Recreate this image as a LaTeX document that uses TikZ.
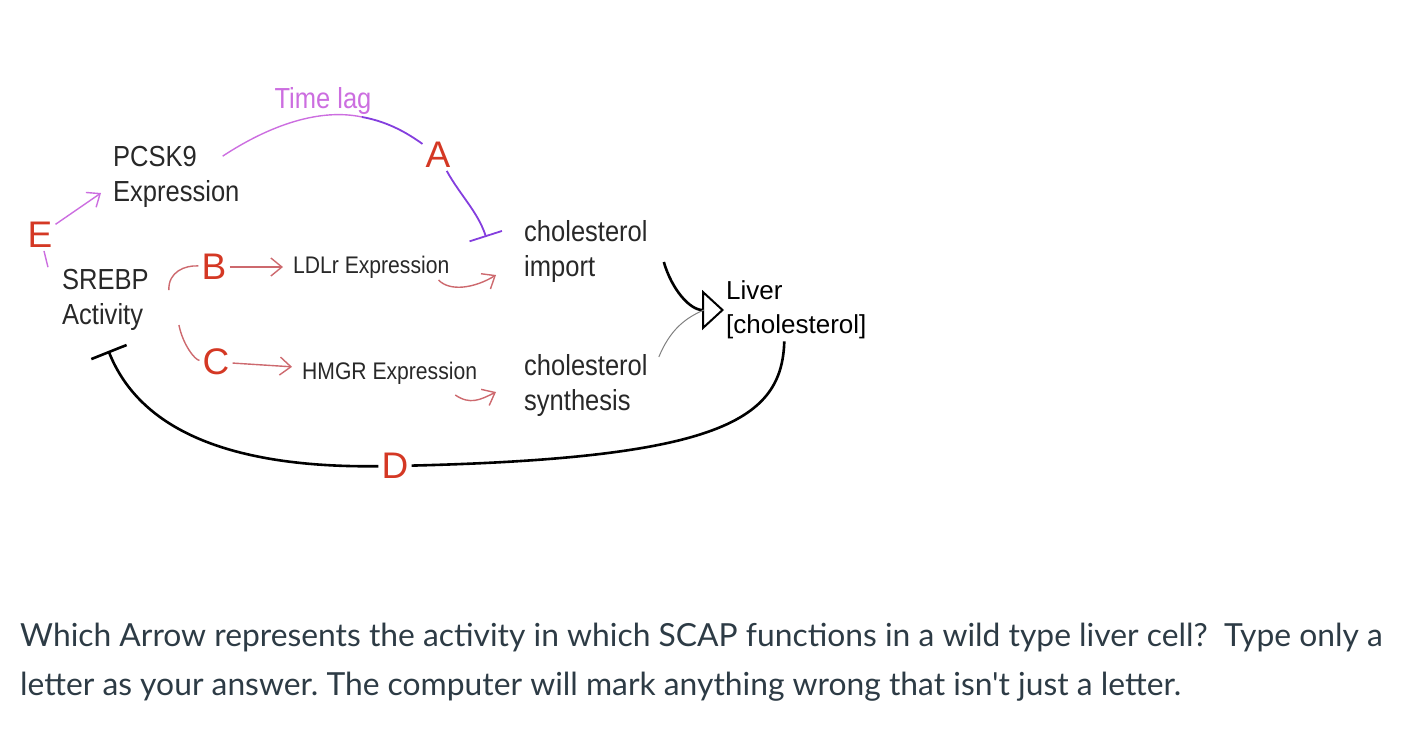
\documentclass[tikz,border=0pt]{standalone}
\usepackage{fontspec}
\setmainfont{Lato}
\newfontfamily\questionfont{Lato}
\newfontfamily\labelfont[FakeStretch=0.88]{Liberation Sans}
\newfontfamily\tagfont{Liberation Sans}
\usetikzlibrary{arrows.meta}
\definecolor{tagred}{RGB}{212,56,36}
\definecolor{rose}{RGB}{205,105,110}
\definecolor{orchid}{RGB}{204,110,224}
\definecolor{lagviolet}{RGB}{132,62,222}
\definecolor{labelgray}{RGB}{40,40,40}
\definecolor{questiontext}{RGB}{45,59,69}
\frenchspacing
\begin{document}
\begin{tikzpicture}[x=1pt,y=-1pt,
  labelnode/.style={font={\labelfont\fontsize{29}{35}\selectfont},text=labelgray,align=left,anchor=west,inner sep=2pt},
  smallnode/.style={font={\labelfont\fontsize{24}{28}\selectfont},text=labelgray,anchor=west,inner sep=2pt},
  livernode/.style={font={\tagfont\fontsize{26}{34}\selectfont},text=black,align=left,anchor=west,inner sep=2pt},
  tagnode/.style={font={\tagfont\fontsize{37}{40}\selectfont},text=tagred,inner sep=3pt},
  pinkline/.style={draw=orchid,line width=1.4pt},
  roseline/.style={draw=rose,line width=1.4pt},
  violetline/.style={draw=lagviolet,line width=1.8pt},
  blackline/.style={draw=black,line width=2.6pt},
  thinline/.style={draw=gray,line width=1pt},
  barb/.style={-{Straight Barb[length=11pt,width=18pt]}}]
\useasboundingbox (0,0) rectangle (1420,748);
% labels
\node[labelnode] (pcsk) at (111,177) {PCSK9\\Expression};
\node[labelnode] (srebp) at (60,300) {SREBP\\Activity};
\node[smallnode] (ldlr) at (291,267) {LDLr Expression};
\node[smallnode] (hmgr) at (300,373) {HMGR Expression};
\node[labelnode] (imp) at (522,251) {cholesterol\\import};
\node[labelnode] (syn) at (522,385) {cholesterol\\synthesis};
\node[livernode] (liver) at (724,310) {Liver\\{[cholesterol]}};
\node[labelnode,text=orchid,anchor=center] (timelag) at (323,101) {Time lag};
% letters
\node[tagnode] (la) at (438,155) {A};
\node[tagnode] (lb) at (214,267) {B};
\node[tagnode] (lc) at (216,362) {C};
\node[tagnode] (ld) at (395,466) {D};
\node[tagnode] (le) at (40,235) {E};
% E
\draw[pinkline] ([shift={(-12,0)}]srebp.north west) -- (le);
\draw[pinkline,barb] (le) -- ([shift={(-10,16)}]pcsk.west);
% A
\coordinate (lagtop) at (362,117);
\draw[pinkline] ([shift={(-19,12)}]pcsk.north east) .. controls (270,125) and (320,108) .. (lagtop);
\draw[violetline] (lagtop) .. controls (390,122) and (410,135) .. (la);
\draw[violetline,-{Bar[width=34pt]}] (la) .. controls (460,195) and (478,212) .. ([shift={(-36,-14)}]imp.west);
% B and C
\draw[roseline] ([shift={(18,-10)}]srebp.east) .. controls (168,272) and (185,265) .. (lb);
\draw[roseline,barb,shorten >=8pt] (lb) -- (ldlr);
\draw[roseline] ([shift={(28,25)}]srebp.east) .. controls (183,345) and (195,360) .. (lc);
\draw[roseline,barb,shorten >=8pt] (lc) -- (hmgr);
\draw[roseline,barb] ([shift={(-13,13)}]ldlr.east) .. controls (450,292) and (475,288) .. ([shift={(-26,24)}]imp.west);
\draw[roseline,barb] ([shift={(-24,22)}]hmgr.east) .. controls (470,405) and (480,400) .. ([shift={(-26,7)}]syn.west);
% liver
\draw[blackline,-{Triangle[open,length=22pt,width=40pt,line width=2pt]}] ([shift={(14,11)}]imp.east) .. controls (672,290) and (690,310) .. (liver.west);
\draw[thinline] ([shift={(9,-28)}]syn.east) .. controls (670,330) and (685,318) .. ([xshift=-20]liver.west);
% D
\draw[blackline] ([xshift=-12]liver.south) .. controls (782,420) and (720,458) .. (ld);
\draw[blackline,-{Bar[width=38pt]}] (ld) .. controls (230,468) and (140,430) .. ([shift={(3,18)}]srebp.south);
% question
\node[font={\questionfont\fontsize{31.8}{49}\selectfont},text=questiontext,align=left,anchor=west,inner sep=0pt] (question) at (20,662)
  {Which Arrow represents the activity in which SCAP functions in a wild type liver cell?\ \ Type only a\\letter as your answer. The computer will mark anything wrong that isn't just a letter.};
\end{tikzpicture}
\end{document}
